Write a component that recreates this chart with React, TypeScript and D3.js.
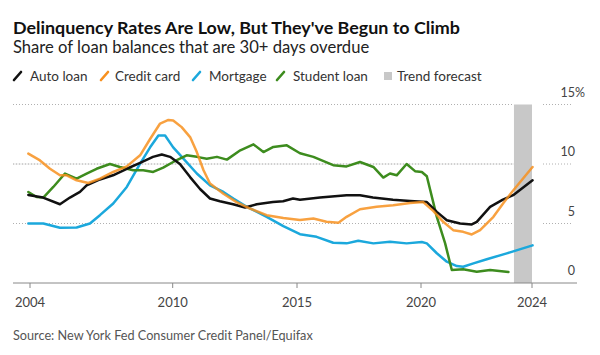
import React from "react";
import * as d3 from "d3";

const title = "Delinquency Rates Are Low, But They've Begun to Climb";
const subtitle = "Share of loan balances that are 30+ days overdue";
const source = "Source: New York Fed Consumer Credit Panel/Equifax";

const xTicks = [2004, 2010, 2015, 2020, 2024];
const yTicks = [0, 5, 10, 15];
const forecast = [2023.35, 2024.0];

const autoLoan: [number, number][] = [
  [2003.93, 7.4], [2004.55, 7.18], [2005.26, 6.62], [2005.68, 7.18], [2006.1, 7.65],
  [2006.38, 8.2], [2006.94, 8.7], [2007.49, 9.05], [2008.07, 9.6], [2008.63, 10.1],
  [2009.17, 10.6], [2009.54, 10.8], [2009.89, 10.6], [2010.29, 10.0], [2010.7, 8.9],
  [2011.1, 7.9], [2011.5, 7.1], [2011.9, 6.87], [2012.43, 6.62], [2012.91, 6.34],
  [2013.38, 6.62], [2014.03, 6.8], [2014.44, 6.87], [2014.84, 7.1], [2015.12, 7.0],
  [2015.93, 7.18], [2017.0, 7.38], [2017.54, 7.38], [2018.06, 7.18], [2018.87, 7.0],
  [2019.56, 6.9], [2020.21, 6.8], [2020.57, 5.98], [2020.93, 5.28], [2021.41, 5.0],
  [2021.83, 4.92], [2022.01, 5.14], [2022.49, 6.4], [2022.95, 7.0], [2023.32, 7.38],
  [2024.02, 8.63],
];

const creditCard: [number, number][] = [
  [2003.93, 10.87], [2004.42, 10.3], [2004.84, 9.6], [2005.26, 9.05], [2005.54, 9.05],
  [2005.96, 8.63], [2006.45, 8.4], [2006.94, 8.77], [2007.5, 9.33], [2008.07, 9.8],
  [2008.63, 10.73], [2009.05, 12.1], [2009.47, 13.4], [2009.82, 13.7], [2010.02, 13.66],
  [2010.36, 13.1], [2010.7, 12.26], [2010.97, 11.0], [2011.24, 9.47], [2011.5, 8.36],
  [2012.04, 7.5], [2012.57, 6.8], [2013.11, 6.26], [2013.78, 5.7], [2014.45, 5.47],
  [2015.12, 5.3], [2015.66, 5.42], [2016.19, 5.14], [2016.67, 5.06], [2017.0, 5.56],
  [2017.54, 6.2], [2018.21, 6.4], [2018.88, 6.54], [2019.56, 6.73], [2020.08, 6.8],
  [2020.44, 6.06], [2020.8, 5.14], [2021.16, 4.44], [2021.52, 4.3], [2021.83, 4.08],
  [2022.13, 4.44], [2022.61, 5.56], [2022.97, 6.73], [2023.33, 7.8], [2024.02, 9.75],
];

const mortgage: [number, number][] = [
  [2003.93, 5.0], [2004.56, 5.0], [2005.26, 4.64], [2005.96, 4.67], [2006.52, 5.0],
  [2006.94, 5.7], [2007.5, 6.68], [2008.07, 8.07], [2008.63, 10.03], [2009.05, 11.4],
  [2009.4, 12.4], [2009.68, 12.4], [2010.02, 11.4], [2010.43, 10.45], [2010.97, 9.2],
  [2011.5, 8.2], [2012.04, 7.65], [2012.44, 7.1], [2012.98, 6.4], [2013.78, 5.56],
  [2014.45, 4.78], [2015.12, 4.1], [2015.79, 3.88], [2016.46, 3.38], [2017.0, 3.33],
  [2017.47, 3.55], [2018.08, 3.33], [2018.75, 3.46], [2019.42, 3.33], [2020.03, 3.44],
  [2020.21, 3.33], [2020.57, 2.5], [2020.93, 1.79], [2021.29, 1.42], [2021.52, 1.37],
  [2021.89, 1.65], [2022.37, 1.99], [2023.09, 2.49], [2024.02, 3.16],
];

const studentLoan: [number, number][] = [
  [2003.93, 7.65], [2004.28, 7.23], [2004.56, 7.18], [2004.98, 8.07], [2005.47, 9.2],
  [2005.96, 8.77], [2006.38, 9.2], [2006.8, 9.6], [2007.36, 10.0], [2007.78, 9.75],
  [2008.34, 9.47], [2008.76, 9.47], [2009.18, 9.33], [2009.6, 9.7], [2010.02, 10.17],
  [2010.56, 10.73], [2010.97, 10.6], [2011.37, 10.45], [2011.78, 10.6], [2012.18, 10.37],
  [2012.72, 11.15], [2013.25, 11.65], [2013.65, 11.0], [2014.05, 11.43], [2014.59, 11.57],
  [2015.12, 10.9], [2015.66, 10.6], [2016.46, 9.9], [2017.0, 9.8], [2017.54, 10.17],
  [2018.08, 9.75], [2018.48, 8.86], [2018.75, 9.2], [2019.02, 9.05], [2019.42, 10.0],
  [2019.76, 9.4], [2020.03, 9.33], [2020.21, 8.97], [2020.57, 5.56], [2020.87, 3.33],
  [2021.11, 1.09], [2021.52, 1.15], [2022.01, 0.95], [2022.49, 1.09], [2023.15, 0.92],
];

const seriesNames = ["Auto loan", "Credit card", "Mortgage", "Student loan"];
const seriesColors = ["#111111", "#f7901e", "#1ba8dc", "#3d8c1e"];
const seriesOpacity = [1, 0.85, 1, 1];

const FONT = "Lato, 'Noto Sans', sans-serif";

export default function App() {
  const x = d3.scaleLinear().domain(xTicks).range([30, 172.7, 297, 421, 532]);
  const y = d3.scaleLinear().domain([0, 15]).range([283, 104.5]);
  const line = d3
    .line<[number, number]>()
    .x((d) => x(d[0]))
    .y((d) => y(d[1]))
    .curve(d3.curveLinear);

  const data = [autoLoan, creditCard, mortgage, studentLoan];
  const drawOrder = [2, 3, 0, 1];

  const legendX = [13, 100, 192, 276];
  const legendTextX = [30, 115, 209, 293];

  const gridLeft = 13;
  const bandL = x(forecast[0]);
  const bandR = x(forecast[1]);
  const gridRightStart = bandR + 11;
  const gridRight = 573;

  return (
    <svg width={600} height={355} style={{ position: "absolute", left: 0, top: 0, background: "#fff" }} fontFamily={FONT}>
      <rect width={600} height={355} fill="#fff" />
      <text x={13} y={34} fontSize={17.9} fontWeight={700} fill="#111">{title}</text>
      <text x={13} y={53} fontSize={16.6} fill="#222">{subtitle}</text>

      {seriesNames.map((n, i) => (
        <g key={n}>
          <line x1={legendX[i] + 1} y1={80} x2={legendX[i] + 8} y2={72} stroke={seriesColors[i]} strokeWidth={2.6} strokeLinecap="round" />
          <text x={legendTextX[i]} y={81} fontSize={13.5} fill="#333">{n}</text>
        </g>
      ))}
      <rect x={384} y={72} width={8} height={8} fill="#c8c8c8" />
      <text x={397} y={81} fontSize={13.5} fill="#333">Trend forecast</text>

      {/* forecast band */}
      <rect x={bandL} y={y(15)} width={bandR - bandL} height={y(0) - y(15)} fill="#c8c8c8" />

      {/* gridlines */}
      <line x1={gridLeft} x2={bandL} y1={y(10)} y2={y(10)} stroke="#e4e4e4" strokeWidth={1} />
      {yTicks.filter((t) => t > 0).map((t) => (
        <g key={t}>
          <line x1={gridLeft} x2={bandL} y1={y(t)} y2={y(t)} stroke="#b0b0b0" strokeWidth={1} strokeDasharray="1,2" />
          <line x1={gridRightStart} x2={gridRight} y1={y(t)} y2={y(t)} stroke="#b0b0b0" strokeWidth={1} strokeDasharray="1,2" />
        </g>
      ))}

      {/* y labels */}
      {yTicks.map((t) => (
        <text key={t} x={575} y={y(t) - 8} fontSize={12.5} fill="#444" textAnchor="end">
          {t}
        </text>
      ))}
      <text x={575} y={y(15) - 8} fontSize={12.5} fill="#444">%</text>

      {/* series */}
      {drawOrder.map((i) => (
        <path key={i} d={line(data[i]) || ""} fill="none" stroke={seriesColors[i]} strokeOpacity={seriesOpacity[i]} strokeWidth={2.5} strokeLinejoin="round" strokeLinecap="round" />
      ))}

      {/* x axis */}
      <line x1={13} x2={577} y1={y(0)} y2={y(0)} stroke="#888" strokeWidth={1} />
      {xTicks.map((t) => (
        <g key={t}>
          <line x1={x(t)} x2={x(t)} y1={y(0)} y2={y(0) + 5} stroke="#888" strokeWidth={1} />
          <text x={x(t)} y={307} fontSize={13} fill="#444" textAnchor="middle">{t}</text>
        </g>
      ))}

      <text x={13} y={340} fontSize={12.7} fill="#555">{source}</text>
    </svg>
  );
}
